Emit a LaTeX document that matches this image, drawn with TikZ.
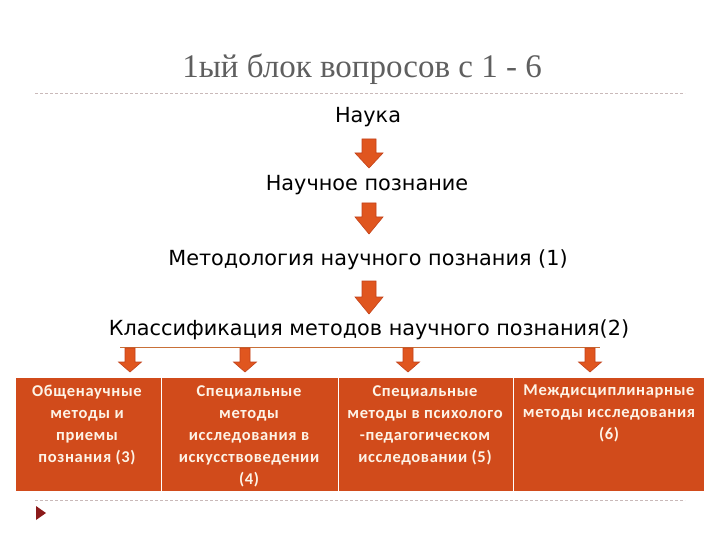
\documentclass[tikz,border=0pt]{standalone}
\usepackage{fontspec}
\setmainfont{DejaVu Sans}
\newfontfamily\titlefont{Liberation Serif}
\newfontfamily\cellfont[LetterSpace=4]{Carlito}
\definecolor{boxfill}{HTML}{D14B1B}
\definecolor{arrowfill}{HTML}{E0561F}
\definecolor{arrowedge}{HTML}{C2421A}
\definecolor{dashcol}{HTML}{C9B9B9}
\definecolor{titlecol}{HTML}{5F5F5F}
\definecolor{celltext}{HTML}{FDF3E6}
\definecolor{linkcol}{HTML}{C87038}
\definecolor{bullet}{HTML}{8B1A1A}
\newcommand{\blockarr}[6]{% x, top, bottom, half shaft, half head, head start
  \fill[arrowfill,draw=arrowedge,line width=0.6pt] (#1-#4,#2) -- (#1+#4,#2) -- (#1+#4,#6) -- (#1+#5,#6) -- (#1,#3) -- (#1-#5,#6) -- (#1-#4,#6) -- cycle;}
\begin{document}
\begin{tikzpicture}[x=1pt,y=-1pt,
  lvl/.style={font=\fontsize{20.8}{24}\selectfont, text=black, inner sep=0pt},
  cell/.style={fill=boxfill, draw=white, line width=1.2pt, minimum height=114pt, anchor=north west, inner sep=0pt},
  celltxt/.style={font=\cellfont\bfseries\fontsize{16.5}{22}\selectfont, text=celltext, align=center, anchor=north, inner sep=0pt},
  dashline/.style={draw=dashcol, dash pattern=on 3pt off 2pt, line width=0.8pt}]
\useasboundingbox (0,0) rectangle (720,540);
\node[font=\titlefont\fontsize{33}{36}\selectfont, text=titlecol, inner sep=0pt] (title) at (362,69) {1ый блок вопросов с 1 - 6};
\coordinate (tl) at (35,93); \coordinate (tr) at (685,93);
\draw[dashline] (tl) -- (tr);
\node[lvl] (n1) at (368,117) {Наука};
\node[lvl] (n2) at (367,185) {Научное познание};
\node[lvl] (n3) at (368,260) {Методология научного познания (1)};
\node[lvl] (n4) at (369,330) {Классификация методов научного познания(2)};
\blockarr{369}{139}{168}{7}{14}{153}
\blockarr{369}{203}{234}{7}{14}{217}
\blockarr{369}{281}{314}{7}{14}{297}
\coordinate (la) at (120,347); \coordinate (lb) at (600,347);
\draw[linkcol, line width=0.8pt] (la) -- (lb);
\blockarr{130}{348}{372}{5}{11.5}{362}
\blockarr{245}{348}{372}{5}{11.5}{362}
\blockarr{408}{348}{372}{5}{11.5}{362}
\blockarr{590}{348}{372}{5}{11.5}{362}
\node[cell, minimum width=146pt] (c1) at (15,377) {};
\node[cell, minimum width=177pt] (c2) at (161,377) {};
\node[cell, minimum width=175pt] (c3) at (338,377) {};
\node[cell, minimum width=191pt] (c4) at (513,377) {};
\node[celltxt] (t1) at (87,385) {Общенаучные\\методы и\\приемы\\познания (3)};
\node[celltxt] (t2) at (249,385) {Специальные\\методы\\исследования в\\искусствоведении\\(4)};
\node[celltxt] (t3) at (425,385) {Специальные\\методы в психолого\\-педагогическом\\исследовании (5)};
\node[celltxt] (t4) at (609,385) {Междисциплинарные\\методы исследования\\(6)};
\coordinate (bl) at (35,500); \coordinate (br) at (685,500);
\draw[dashline] (bl) -- (br);
\fill[bullet] (36,506) -- (46,513) -- (36,520) -- cycle;
\end{tikzpicture}
\end{document}
